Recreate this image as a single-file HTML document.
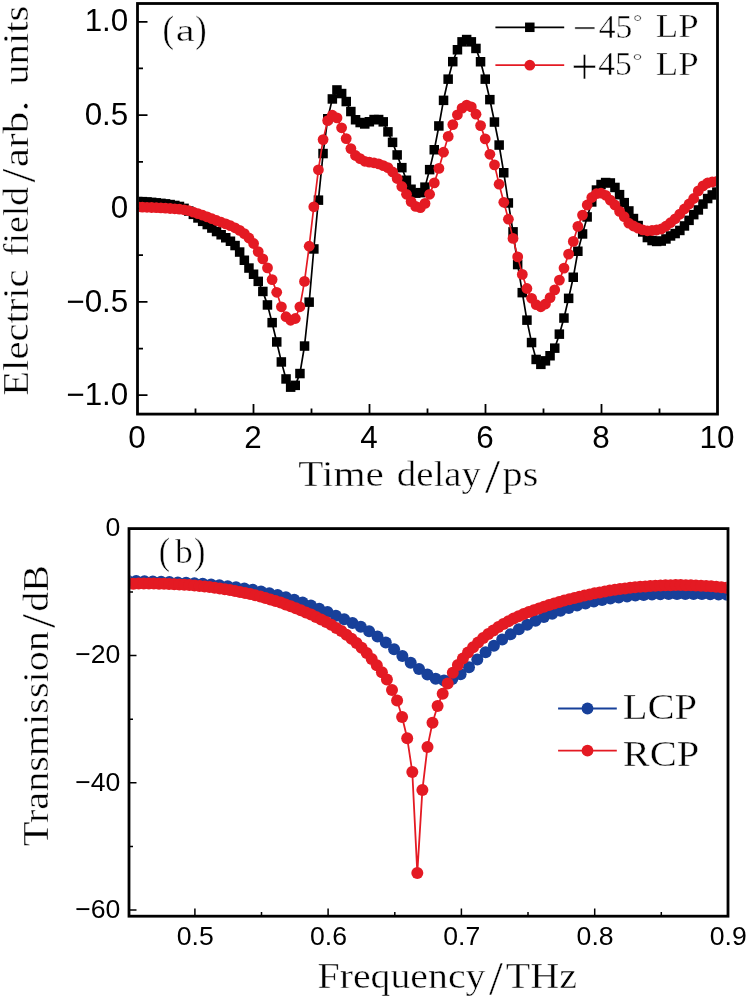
<!DOCTYPE html><html><head><meta charset="utf-8"><title>Figure</title><style>html,body{margin:0;padding:0;background:#fff}svg{display:block}</style></head><body>
<svg width="747" height="996" viewBox="0 0 747 996">
<rect width="747" height="996" fill="#fff"/>
<defs>
<clipPath id="ca"><rect x="138.8" y="4.8" width="577.4" height="408.0"/></clipPath>
<clipPath id="cb"><rect x="130.3" y="529.9" width="596.4" height="385.0"/></clipPath>
</defs>
<path d="M137.5,395.2h10 M137.5,301.9h10 M137.5,208.5h10 M137.5,115.1h10 M137.5,21.8h10 M137.5,348.6h5.5 M137.5,255.2h5.5 M137.5,161.8h5.5 M137.5,68.4h5.5 M253.5,414.1v-10 M369.5,414.1v-10 M485.5,414.1v-10 M601.5,414.1v-10 M195.5,414.1v-5.5 M311.5,414.1v-5.5 M427.5,414.1v-5.5 M543.5,414.1v-5.5 M659.5,414.1v-5.5" stroke="#000" stroke-width="1.8" fill="none"/>
<path d="M129.0,655.5h7.5 M129.0,782.8h7.5 M129.0,910.0h7.5 M129.0,591.9h4 M129.0,719.2h4 M129.0,846.4h4 M194.9,916.2v-7.6 M328.1,916.2v-7.6 M461.4,916.2v-7.6 M594.7,916.2v-7.6 M261.5,916.2v-4.3 M394.8,916.2v-4.3 M528.0,916.2v-4.3 M661.3,916.2v-4.3" stroke="#000" stroke-width="1.5" fill="none"/>
<g clip-path="url(#ca)">
<polyline fill="none" stroke="#000" stroke-width="1.7" stroke-linejoin="round" points="137.8,201.5 142.4,201.7 147.0,202.0 151.6,202.4 156.3,202.8 160.9,203.3 165.5,203.9 170.2,204.5 174.8,205.4 179.4,206.5 184.1,208.3 188.7,211.1 193.3,214.4 198.0,217.9 202.6,221.3 207.2,224.6 211.9,228.0 216.5,231.5 221.1,234.7 225.8,237.8 230.4,241.2 235.0,245.5 239.7,252.0 244.3,260.3 248.9,268.0 253.6,274.2 258.2,281.4 262.8,291.4 267.5,304.9 272.1,322.7 276.7,342.0 281.4,361.9 286.0,379.0 290.6,387.2 295.3,385.4 299.9,373.6 304.5,346.0 309.2,302.2 313.8,249.0 318.4,200.1 323.1,153.5 327.7,118.8 332.3,98.9 337.0,89.9 341.6,93.5 346.2,101.6 350.9,111.6 355.5,119.7 360.1,122.5 364.8,124.0 369.4,121.8 374.0,119.6 378.7,119.6 383.3,121.9 387.9,131.8 392.6,142.3 397.2,155.0 401.8,167.6 406.5,180.2 411.1,189.3 415.7,193.2 420.4,192.6 425.0,187.1 429.6,169.6 434.3,149.8 438.9,126.0 443.5,100.3 448.2,79.2 452.8,61.7 457.4,49.7 462.1,41.9 466.7,39.5 471.3,41.9 476.0,48.5 480.6,61.7 485.2,79.2 489.9,99.7 494.5,122.0 499.1,145.0 503.8,172.8 508.4,202.9 513.0,231.8 517.7,264.6 522.3,292.7 526.9,320.1 531.6,342.6 536.2,359.5 540.8,364.4 545.5,360.9 550.1,355.7 554.7,348.2 559.4,334.2 564.0,318.0 568.6,298.3 573.3,277.3 577.9,251.3 582.5,233.9 587.2,217.0 591.8,202.0 596.4,190.0 601.0,184.5 605.7,182.5 610.3,183.0 614.9,187.5 619.6,194.6 624.2,202.6 628.8,211.0 633.5,218.5 638.1,225.5 642.7,232.0 647.4,237.5 652.0,240.5 656.6,241.5 661.3,241.0 665.9,239.0 670.5,236.0 675.2,233.6 679.8,230.4 684.4,226.0 689.1,220.3 693.7,214.7 698.3,210.0 703.0,204.0 707.6,198.5 712.2,195.0 716.9,192.0"/>
<g fill="#000"><rect x="133.0" y="196.8" width="9.5" height="9.5"/><rect x="137.6" y="196.9" width="9.5" height="9.5"/><rect x="142.3" y="197.2" width="9.5" height="9.5"/><rect x="146.9" y="197.6" width="9.5" height="9.5"/><rect x="151.5" y="198.1" width="9.5" height="9.5"/><rect x="156.2" y="198.6" width="9.5" height="9.5"/><rect x="160.8" y="199.1" width="9.5" height="9.5"/><rect x="165.4" y="199.8" width="9.5" height="9.5"/><rect x="170.1" y="200.7" width="9.5" height="9.5"/><rect x="174.7" y="201.7" width="9.5" height="9.5"/><rect x="179.3" y="203.6" width="9.5" height="9.5"/><rect x="184.0" y="206.3" width="9.5" height="9.5"/><rect x="188.6" y="209.6" width="9.5" height="9.5"/><rect x="193.2" y="213.2" width="9.5" height="9.5"/><rect x="197.9" y="216.6" width="9.5" height="9.5"/><rect x="202.5" y="219.8" width="9.5" height="9.5"/><rect x="207.1" y="223.3" width="9.5" height="9.5"/><rect x="211.8" y="226.8" width="9.5" height="9.5"/><rect x="216.4" y="230.0" width="9.5" height="9.5"/><rect x="221.0" y="233.0" width="9.5" height="9.5"/><rect x="225.7" y="236.5" width="9.5" height="9.5"/><rect x="230.3" y="240.8" width="9.5" height="9.5"/><rect x="234.9" y="247.3" width="9.5" height="9.5"/><rect x="239.6" y="255.5" width="9.5" height="9.5"/><rect x="244.2" y="263.3" width="9.5" height="9.5"/><rect x="248.8" y="269.5" width="9.5" height="9.5"/><rect x="253.5" y="276.6" width="9.5" height="9.5"/><rect x="258.1" y="286.7" width="9.5" height="9.5"/><rect x="262.7" y="300.2" width="9.5" height="9.5"/><rect x="267.4" y="317.9" width="9.5" height="9.5"/><rect x="272.0" y="337.2" width="9.5" height="9.5"/><rect x="276.6" y="357.2" width="9.5" height="9.5"/><rect x="281.3" y="374.2" width="9.5" height="9.5"/><rect x="285.9" y="382.4" width="9.5" height="9.5"/><rect x="290.5" y="380.6" width="9.5" height="9.5"/><rect x="295.2" y="368.8" width="9.5" height="9.5"/><rect x="299.8" y="341.3" width="9.5" height="9.5"/><rect x="304.4" y="297.4" width="9.5" height="9.5"/><rect x="309.1" y="244.2" width="9.5" height="9.5"/><rect x="313.7" y="195.4" width="9.5" height="9.5"/><rect x="318.3" y="148.8" width="9.5" height="9.5"/><rect x="323.0" y="114.0" width="9.5" height="9.5"/><rect x="327.6" y="94.2" width="9.5" height="9.5"/><rect x="332.2" y="85.2" width="9.5" height="9.5"/><rect x="336.9" y="88.8" width="9.5" height="9.5"/><rect x="341.5" y="96.8" width="9.5" height="9.5"/><rect x="346.1" y="106.8" width="9.5" height="9.5"/><rect x="350.8" y="115.0" width="9.5" height="9.5"/><rect x="355.4" y="117.8" width="9.5" height="9.5"/><rect x="360.0" y="119.2" width="9.5" height="9.5"/><rect x="364.6" y="117.0" width="9.5" height="9.5"/><rect x="369.3" y="114.8" width="9.5" height="9.5"/><rect x="373.9" y="114.8" width="9.5" height="9.5"/><rect x="378.5" y="117.1" width="9.5" height="9.5"/><rect x="383.2" y="127.1" width="9.5" height="9.5"/><rect x="387.8" y="137.6" width="9.5" height="9.5"/><rect x="392.4" y="150.2" width="9.5" height="9.5"/><rect x="397.1" y="162.9" width="9.5" height="9.5"/><rect x="401.7" y="175.5" width="9.5" height="9.5"/><rect x="406.3" y="184.5" width="9.5" height="9.5"/><rect x="411.0" y="188.4" width="9.5" height="9.5"/><rect x="415.6" y="187.9" width="9.5" height="9.5"/><rect x="420.2" y="182.4" width="9.5" height="9.5"/><rect x="424.9" y="164.9" width="9.5" height="9.5"/><rect x="429.5" y="145.0" width="9.5" height="9.5"/><rect x="434.1" y="121.2" width="9.5" height="9.5"/><rect x="438.8" y="95.6" width="9.5" height="9.5"/><rect x="443.4" y="74.4" width="9.5" height="9.5"/><rect x="448.0" y="56.9" width="9.5" height="9.5"/><rect x="452.7" y="45.0" width="9.5" height="9.5"/><rect x="457.3" y="37.1" width="9.5" height="9.5"/><rect x="461.9" y="34.8" width="9.5" height="9.5"/><rect x="466.6" y="37.1" width="9.5" height="9.5"/><rect x="471.2" y="43.7" width="9.5" height="9.5"/><rect x="475.8" y="57.0" width="9.5" height="9.5"/><rect x="480.5" y="74.4" width="9.5" height="9.5"/><rect x="485.1" y="94.9" width="9.5" height="9.5"/><rect x="489.7" y="117.3" width="9.5" height="9.5"/><rect x="494.4" y="140.3" width="9.5" height="9.5"/><rect x="499.0" y="168.0" width="9.5" height="9.5"/><rect x="503.6" y="198.2" width="9.5" height="9.5"/><rect x="508.3" y="227.1" width="9.5" height="9.5"/><rect x="512.9" y="259.8" width="9.5" height="9.5"/><rect x="517.5" y="287.9" width="9.5" height="9.5"/><rect x="522.2" y="315.4" width="9.5" height="9.5"/><rect x="526.8" y="337.8" width="9.5" height="9.5"/><rect x="531.4" y="354.7" width="9.5" height="9.5"/><rect x="536.1" y="359.6" width="9.5" height="9.5"/><rect x="540.7" y="356.1" width="9.5" height="9.5"/><rect x="545.3" y="351.0" width="9.5" height="9.5"/><rect x="550.0" y="343.4" width="9.5" height="9.5"/><rect x="554.6" y="329.4" width="9.5" height="9.5"/><rect x="559.2" y="313.3" width="9.5" height="9.5"/><rect x="563.9" y="293.6" width="9.5" height="9.5"/><rect x="568.5" y="272.5" width="9.5" height="9.5"/><rect x="573.1" y="246.5" width="9.5" height="9.5"/><rect x="577.8" y="229.2" width="9.5" height="9.5"/><rect x="582.4" y="212.2" width="9.5" height="9.5"/><rect x="587.0" y="197.2" width="9.5" height="9.5"/><rect x="591.7" y="185.3" width="9.5" height="9.5"/><rect x="596.3" y="179.8" width="9.5" height="9.5"/><rect x="600.9" y="177.8" width="9.5" height="9.5"/><rect x="605.6" y="178.2" width="9.5" height="9.5"/><rect x="610.2" y="182.7" width="9.5" height="9.5"/><rect x="614.8" y="189.9" width="9.5" height="9.5"/><rect x="619.5" y="197.9" width="9.5" height="9.5"/><rect x="624.1" y="206.2" width="9.5" height="9.5"/><rect x="628.7" y="213.8" width="9.5" height="9.5"/><rect x="633.4" y="220.8" width="9.5" height="9.5"/><rect x="638.0" y="227.2" width="9.5" height="9.5"/><rect x="642.6" y="232.8" width="9.5" height="9.5"/><rect x="647.3" y="235.8" width="9.5" height="9.5"/><rect x="651.9" y="236.7" width="9.5" height="9.5"/><rect x="656.5" y="236.3" width="9.5" height="9.5"/><rect x="661.2" y="234.2" width="9.5" height="9.5"/><rect x="665.8" y="231.2" width="9.5" height="9.5"/><rect x="670.4" y="228.8" width="9.5" height="9.5"/><rect x="675.1" y="225.7" width="9.5" height="9.5"/><rect x="679.7" y="221.2" width="9.5" height="9.5"/><rect x="684.3" y="215.6" width="9.5" height="9.5"/><rect x="689.0" y="209.9" width="9.5" height="9.5"/><rect x="693.6" y="205.2" width="9.5" height="9.5"/><rect x="698.2" y="199.3" width="9.5" height="9.5"/><rect x="702.9" y="193.8" width="9.5" height="9.5"/><rect x="707.5" y="190.2" width="9.5" height="9.5"/><rect x="712.1" y="187.3" width="9.5" height="9.5"/></g>
<polyline fill="none" stroke="#e41a23" stroke-width="1.7" stroke-linejoin="round" points="137.8,206.9 142.4,207.1 147.0,207.3 151.6,207.5 156.3,207.7 160.9,207.9 165.5,208.2 170.2,208.5 174.8,208.8 179.4,209.2 184.1,209.8 188.7,210.7 193.3,212.1 198.0,213.6 202.6,215.2 207.2,216.9 211.9,218.7 216.5,220.5 221.1,222.2 225.8,223.9 230.4,225.7 235.0,227.8 239.7,230.4 244.3,233.6 248.9,238.0 253.6,243.5 258.2,251.6 262.8,258.9 267.5,267.9 272.1,279.6 276.7,292.3 281.4,306.8 286.0,316.7 290.6,320.3 295.3,318.5 299.9,306.8 304.5,281.4 309.2,246.2 313.8,206.8 318.4,169.8 323.1,139.6 327.7,120.6 332.3,115.2 337.0,117.9 341.6,127.8 346.2,138.6 350.9,148.6 355.5,155.5 360.1,158.6 364.8,161.3 369.4,162.2 374.0,162.8 378.7,163.9 383.3,165.6 387.9,167.6 392.6,172.0 397.2,178.5 401.8,186.5 406.5,194.3 411.1,201.6 415.7,206.4 420.4,207.6 425.0,203.4 429.6,194.3 434.3,182.9 438.9,168.4 443.5,152.2 448.2,136.4 452.8,124.6 457.4,114.8 462.1,108.1 466.7,105.1 471.3,106.9 476.0,114.2 480.6,125.6 485.2,138.9 489.9,154.3 494.5,164.9 499.1,184.2 503.8,202.3 508.4,219.2 513.0,238.4 517.7,256.9 522.3,274.4 526.9,288.5 531.6,298.3 536.2,304.7 540.8,306.8 545.5,304.0 550.1,297.6 554.7,289.9 559.4,280.1 564.0,268.1 568.6,254.1 573.3,241.4 577.9,226.4 582.5,215.1 587.2,205.0 591.8,197.5 596.4,193.7 601.0,193.2 605.7,195.3 610.3,200.1 614.9,205.0 619.6,211.4 624.2,216.7 628.8,223.2 633.5,226.0 638.1,228.2 642.7,229.9 647.4,230.8 652.0,230.5 656.6,230.0 661.3,229.0 665.9,226.2 670.5,222.7 675.2,218.8 679.8,214.1 684.4,209.0 689.1,204.0 693.7,198.5 698.3,190.9 703.0,185.9 707.6,183.0 712.2,182.0 716.9,181.3"/>
<g fill="#e41a23"><circle cx="137.8" cy="206.9" r="5.4"/><circle cx="142.4" cy="207.1" r="5.4"/><circle cx="147.0" cy="207.3" r="5.4"/><circle cx="151.6" cy="207.5" r="5.4"/><circle cx="156.3" cy="207.7" r="5.4"/><circle cx="160.9" cy="207.9" r="5.4"/><circle cx="165.5" cy="208.2" r="5.4"/><circle cx="170.2" cy="208.5" r="5.4"/><circle cx="174.8" cy="208.8" r="5.4"/><circle cx="179.4" cy="209.2" r="5.4"/><circle cx="184.1" cy="209.8" r="5.4"/><circle cx="188.7" cy="210.7" r="5.4"/><circle cx="193.3" cy="212.1" r="5.4"/><circle cx="198.0" cy="213.6" r="5.4"/><circle cx="202.6" cy="215.2" r="5.4"/><circle cx="207.2" cy="216.9" r="5.4"/><circle cx="211.9" cy="218.7" r="5.4"/><circle cx="216.5" cy="220.5" r="5.4"/><circle cx="221.1" cy="222.2" r="5.4"/><circle cx="225.8" cy="223.9" r="5.4"/><circle cx="230.4" cy="225.7" r="5.4"/><circle cx="235.0" cy="227.8" r="5.4"/><circle cx="239.7" cy="230.4" r="5.4"/><circle cx="244.3" cy="233.6" r="5.4"/><circle cx="248.9" cy="238.0" r="5.4"/><circle cx="253.6" cy="243.5" r="5.4"/><circle cx="258.2" cy="251.6" r="5.4"/><circle cx="262.8" cy="258.9" r="5.4"/><circle cx="267.5" cy="267.9" r="5.4"/><circle cx="272.1" cy="279.6" r="5.4"/><circle cx="276.7" cy="292.3" r="5.4"/><circle cx="281.4" cy="306.8" r="5.4"/><circle cx="286.0" cy="316.7" r="5.4"/><circle cx="290.6" cy="320.3" r="5.4"/><circle cx="295.3" cy="318.5" r="5.4"/><circle cx="299.9" cy="306.8" r="5.4"/><circle cx="304.5" cy="281.4" r="5.4"/><circle cx="309.2" cy="246.2" r="5.4"/><circle cx="313.8" cy="206.8" r="5.4"/><circle cx="318.4" cy="169.8" r="5.4"/><circle cx="323.1" cy="139.6" r="5.4"/><circle cx="327.7" cy="120.6" r="5.4"/><circle cx="332.3" cy="115.2" r="5.4"/><circle cx="337.0" cy="117.9" r="5.4"/><circle cx="341.6" cy="127.8" r="5.4"/><circle cx="346.2" cy="138.6" r="5.4"/><circle cx="350.9" cy="148.6" r="5.4"/><circle cx="355.5" cy="155.5" r="5.4"/><circle cx="360.1" cy="158.6" r="5.4"/><circle cx="364.8" cy="161.3" r="5.4"/><circle cx="369.4" cy="162.2" r="5.4"/><circle cx="374.0" cy="162.8" r="5.4"/><circle cx="378.7" cy="163.9" r="5.4"/><circle cx="383.3" cy="165.6" r="5.4"/><circle cx="387.9" cy="167.6" r="5.4"/><circle cx="392.6" cy="172.0" r="5.4"/><circle cx="397.2" cy="178.5" r="5.4"/><circle cx="401.8" cy="186.5" r="5.4"/><circle cx="406.5" cy="194.3" r="5.4"/><circle cx="411.1" cy="201.6" r="5.4"/><circle cx="415.7" cy="206.4" r="5.4"/><circle cx="420.4" cy="207.6" r="5.4"/><circle cx="425.0" cy="203.4" r="5.4"/><circle cx="429.6" cy="194.3" r="5.4"/><circle cx="434.3" cy="182.9" r="5.4"/><circle cx="438.9" cy="168.4" r="5.4"/><circle cx="443.5" cy="152.2" r="5.4"/><circle cx="448.2" cy="136.4" r="5.4"/><circle cx="452.8" cy="124.6" r="5.4"/><circle cx="457.4" cy="114.8" r="5.4"/><circle cx="462.1" cy="108.1" r="5.4"/><circle cx="466.7" cy="105.1" r="5.4"/><circle cx="471.3" cy="106.9" r="5.4"/><circle cx="476.0" cy="114.2" r="5.4"/><circle cx="480.6" cy="125.6" r="5.4"/><circle cx="485.2" cy="138.9" r="5.4"/><circle cx="489.9" cy="154.3" r="5.4"/><circle cx="494.5" cy="164.9" r="5.4"/><circle cx="499.1" cy="184.2" r="5.4"/><circle cx="503.8" cy="202.3" r="5.4"/><circle cx="508.4" cy="219.2" r="5.4"/><circle cx="513.0" cy="238.4" r="5.4"/><circle cx="517.7" cy="256.9" r="5.4"/><circle cx="522.3" cy="274.4" r="5.4"/><circle cx="526.9" cy="288.5" r="5.4"/><circle cx="531.6" cy="298.3" r="5.4"/><circle cx="536.2" cy="304.7" r="5.4"/><circle cx="540.8" cy="306.8" r="5.4"/><circle cx="545.5" cy="304.0" r="5.4"/><circle cx="550.1" cy="297.6" r="5.4"/><circle cx="554.7" cy="289.9" r="5.4"/><circle cx="559.4" cy="280.1" r="5.4"/><circle cx="564.0" cy="268.1" r="5.4"/><circle cx="568.6" cy="254.1" r="5.4"/><circle cx="573.3" cy="241.4" r="5.4"/><circle cx="577.9" cy="226.4" r="5.4"/><circle cx="582.5" cy="215.1" r="5.4"/><circle cx="587.2" cy="205.0" r="5.4"/><circle cx="591.8" cy="197.5" r="5.4"/><circle cx="596.4" cy="193.7" r="5.4"/><circle cx="601.0" cy="193.2" r="5.4"/><circle cx="605.7" cy="195.3" r="5.4"/><circle cx="610.3" cy="200.1" r="5.4"/><circle cx="614.9" cy="205.0" r="5.4"/><circle cx="619.6" cy="211.4" r="5.4"/><circle cx="624.2" cy="216.7" r="5.4"/><circle cx="628.8" cy="223.2" r="5.4"/><circle cx="633.5" cy="226.0" r="5.4"/><circle cx="638.1" cy="228.2" r="5.4"/><circle cx="642.7" cy="229.9" r="5.4"/><circle cx="647.4" cy="230.8" r="5.4"/><circle cx="652.0" cy="230.5" r="5.4"/><circle cx="656.6" cy="230.0" r="5.4"/><circle cx="661.3" cy="229.0" r="5.4"/><circle cx="665.9" cy="226.2" r="5.4"/><circle cx="670.5" cy="222.7" r="5.4"/><circle cx="675.2" cy="218.8" r="5.4"/><circle cx="679.8" cy="214.1" r="5.4"/><circle cx="684.4" cy="209.0" r="5.4"/><circle cx="689.1" cy="204.0" r="5.4"/><circle cx="693.7" cy="198.5" r="5.4"/><circle cx="698.3" cy="190.9" r="5.4"/><circle cx="703.0" cy="185.9" r="5.4"/><circle cx="707.6" cy="183.0" r="5.4"/><circle cx="712.2" cy="182.0" r="5.4"/><circle cx="716.9" cy="181.3" r="5.4"/></g>
</g>
<g clip-path="url(#cb)">
<polyline fill="none" stroke="#17409a" stroke-width="1.8" points="127.8,580.9 136.2,581.1 144.5,581.3 152.8,581.5 161.1,581.7 169.4,582.0 177.8,582.4 186.1,582.8 194.4,583.2 202.7,583.8 211.1,584.5 219.4,585.2 227.7,586.2 236.0,587.2 244.3,588.4 252.7,589.8 261.0,591.4 269.3,593.2 277.6,595.1 285.9,597.3 294.2,599.8 302.6,602.5 310.9,605.4 319.2,608.7 327.5,612.1 335.9,615.7 344.2,619.3 352.5,622.9 360.8,626.7 369.1,631.2 377.5,636.5 385.8,642.6 394.1,649.2 402.4,656.0 410.7,662.7 419.0,669.0 427.4,674.6 435.7,678.7 444.0,680.5 452.3,679.1 460.6,674.2 469.0,667.2 477.3,659.5 485.6,652.3 493.9,645.7 502.2,639.6 510.6,634.2 518.9,629.2 527.2,624.8 535.5,620.7 543.9,617.0 552.2,613.7 560.5,610.7 568.8,608.0 577.1,605.6 585.5,603.5 593.8,601.6 602.1,600.0 610.4,598.6 618.7,597.4 627.1,596.4 635.4,595.6 643.7,595.0 652.0,594.5 660.3,594.2 668.7,594.0 677.0,593.9 685.3,593.9 693.6,593.9 701.9,594.1 710.2,594.2 718.6,594.5 726.9,594.7 735.2,594.9"/>
<g fill="#17409a"><circle cx="127.8" cy="580.9" r="6.0"/><circle cx="136.2" cy="581.1" r="6.0"/><circle cx="144.5" cy="581.3" r="6.0"/><circle cx="152.8" cy="581.5" r="6.0"/><circle cx="161.1" cy="581.7" r="6.0"/><circle cx="169.4" cy="582.0" r="6.0"/><circle cx="177.8" cy="582.4" r="6.0"/><circle cx="186.1" cy="582.8" r="6.0"/><circle cx="194.4" cy="583.2" r="6.0"/><circle cx="202.7" cy="583.8" r="6.0"/><circle cx="211.1" cy="584.5" r="6.0"/><circle cx="219.4" cy="585.2" r="6.0"/><circle cx="227.7" cy="586.2" r="6.0"/><circle cx="236.0" cy="587.2" r="6.0"/><circle cx="244.3" cy="588.4" r="6.0"/><circle cx="252.7" cy="589.8" r="6.0"/><circle cx="261.0" cy="591.4" r="6.0"/><circle cx="269.3" cy="593.2" r="6.0"/><circle cx="277.6" cy="595.1" r="6.0"/><circle cx="285.9" cy="597.3" r="6.0"/><circle cx="294.2" cy="599.8" r="6.0"/><circle cx="302.6" cy="602.5" r="6.0"/><circle cx="310.9" cy="605.4" r="6.0"/><circle cx="319.2" cy="608.7" r="6.0"/><circle cx="327.5" cy="612.1" r="6.0"/><circle cx="335.9" cy="615.7" r="6.0"/><circle cx="344.2" cy="619.3" r="6.0"/><circle cx="352.5" cy="622.9" r="6.0"/><circle cx="360.8" cy="626.7" r="6.0"/><circle cx="369.1" cy="631.2" r="6.0"/><circle cx="377.5" cy="636.5" r="6.0"/><circle cx="385.8" cy="642.6" r="6.0"/><circle cx="394.1" cy="649.2" r="6.0"/><circle cx="402.4" cy="656.0" r="6.0"/><circle cx="410.7" cy="662.7" r="6.0"/><circle cx="419.0" cy="669.0" r="6.0"/><circle cx="427.4" cy="674.6" r="6.0"/><circle cx="435.7" cy="678.7" r="6.0"/><circle cx="444.0" cy="680.5" r="6.0"/><circle cx="452.3" cy="679.1" r="6.0"/><circle cx="460.6" cy="674.2" r="6.0"/><circle cx="469.0" cy="667.2" r="6.0"/><circle cx="477.3" cy="659.5" r="6.0"/><circle cx="485.6" cy="652.3" r="6.0"/><circle cx="493.9" cy="645.7" r="6.0"/><circle cx="502.2" cy="639.6" r="6.0"/><circle cx="510.6" cy="634.2" r="6.0"/><circle cx="518.9" cy="629.2" r="6.0"/><circle cx="527.2" cy="624.8" r="6.0"/><circle cx="535.5" cy="620.7" r="6.0"/><circle cx="543.9" cy="617.0" r="6.0"/><circle cx="552.2" cy="613.7" r="6.0"/><circle cx="560.5" cy="610.7" r="6.0"/><circle cx="568.8" cy="608.0" r="6.0"/><circle cx="577.1" cy="605.6" r="6.0"/><circle cx="585.5" cy="603.5" r="6.0"/><circle cx="593.8" cy="601.6" r="6.0"/><circle cx="602.1" cy="600.0" r="6.0"/><circle cx="610.4" cy="598.6" r="6.0"/><circle cx="618.7" cy="597.4" r="6.0"/><circle cx="627.1" cy="596.4" r="6.0"/><circle cx="635.4" cy="595.6" r="6.0"/><circle cx="643.7" cy="595.0" r="6.0"/><circle cx="652.0" cy="594.5" r="6.0"/><circle cx="660.3" cy="594.2" r="6.0"/><circle cx="668.7" cy="594.0" r="6.0"/><circle cx="677.0" cy="593.9" r="6.0"/><circle cx="685.3" cy="593.9" r="6.0"/><circle cx="693.6" cy="593.9" r="6.0"/><circle cx="701.9" cy="594.1" r="6.0"/><circle cx="710.2" cy="594.2" r="6.0"/><circle cx="718.6" cy="594.5" r="6.0"/><circle cx="726.9" cy="594.7" r="6.0"/><circle cx="735.2" cy="594.9" r="6.0"/></g>
<polyline fill="none" stroke="#e41a23" stroke-width="1.8" points="128.6,583.7 133.7,583.7 138.7,583.6 143.8,583.6 148.9,583.6 153.9,583.6 159.0,583.7 164.1,583.8 169.1,584.0 174.2,584.2 179.3,584.5 184.3,584.8 189.4,585.1 194.5,585.5 199.5,586.0 204.6,586.5 209.6,587.1 214.7,587.7 219.8,588.4 224.8,589.2 229.9,590.0 235.0,590.9 240.0,591.9 245.1,592.9 250.2,594.1 255.2,595.3 260.3,596.6 265.4,598.0 270.4,599.4 275.5,601.0 280.6,602.6 285.6,604.4 290.7,606.2 295.8,608.2 300.8,610.2 305.9,612.4 311.0,614.6 316.0,617.0 321.1,619.4 326.2,622.1 331.2,624.8 336.3,627.9 341.4,631.1 346.4,634.7 351.5,638.7 356.5,643.0 361.6,647.8 366.7,653.1 371.7,658.9 376.8,665.3 381.9,672.3 386.9,679.4 392.0,689.9 397.1,700.5 402.1,717.1 407.2,738.2 412.3,772.0 417.3,872.9 422.4,789.9 427.5,746.9 432.5,722.8 437.6,706.1 442.7,693.7 447.7,683.5 452.8,672.7 457.9,665.0 462.9,658.4 468.0,652.5 473.1,647.3 478.1,642.5 483.2,638.1 488.3,634.1 493.3,630.4 498.4,627.0 503.4,624.0 508.5,621.2 513.6,618.6 518.6,616.2 523.7,614.1 528.8,612.1 533.8,610.2 538.9,608.4 544.0,606.7 549.0,605.1 554.1,603.5 559.2,602.0 564.2,600.6 569.3,599.2 574.4,597.9 579.4,596.7 584.5,595.5 589.6,594.4 594.6,593.3 599.7,592.4 604.8,591.4 609.8,590.6 614.9,589.8 620.0,589.1 625.0,588.4 630.1,587.8 635.1,587.3 640.2,586.8 645.3,586.4 650.3,586.0 655.4,585.7 660.5,585.5 665.5,585.3 670.6,585.2 675.7,585.1 680.7,585.1 685.8,585.2 690.9,585.3 695.9,585.5 701.0,585.7 706.1,586.0 711.1,586.3 716.2,586.7 721.3,587.2 726.3,587.7"/>
<g fill="#e41a23"><circle cx="128.6" cy="583.7" r="6.0"/><circle cx="133.7" cy="583.7" r="6.0"/><circle cx="138.7" cy="583.6" r="6.0"/><circle cx="143.8" cy="583.6" r="6.0"/><circle cx="148.9" cy="583.6" r="6.0"/><circle cx="153.9" cy="583.6" r="6.0"/><circle cx="159.0" cy="583.7" r="6.0"/><circle cx="164.1" cy="583.8" r="6.0"/><circle cx="169.1" cy="584.0" r="6.0"/><circle cx="174.2" cy="584.2" r="6.0"/><circle cx="179.3" cy="584.5" r="6.0"/><circle cx="184.3" cy="584.8" r="6.0"/><circle cx="189.4" cy="585.1" r="6.0"/><circle cx="194.5" cy="585.5" r="6.0"/><circle cx="199.5" cy="586.0" r="6.0"/><circle cx="204.6" cy="586.5" r="6.0"/><circle cx="209.6" cy="587.1" r="6.0"/><circle cx="214.7" cy="587.7" r="6.0"/><circle cx="219.8" cy="588.4" r="6.0"/><circle cx="224.8" cy="589.2" r="6.0"/><circle cx="229.9" cy="590.0" r="6.0"/><circle cx="235.0" cy="590.9" r="6.0"/><circle cx="240.0" cy="591.9" r="6.0"/><circle cx="245.1" cy="592.9" r="6.0"/><circle cx="250.2" cy="594.1" r="6.0"/><circle cx="255.2" cy="595.3" r="6.0"/><circle cx="260.3" cy="596.6" r="6.0"/><circle cx="265.4" cy="598.0" r="6.0"/><circle cx="270.4" cy="599.4" r="6.0"/><circle cx="275.5" cy="601.0" r="6.0"/><circle cx="280.6" cy="602.6" r="6.0"/><circle cx="285.6" cy="604.4" r="6.0"/><circle cx="290.7" cy="606.2" r="6.0"/><circle cx="295.8" cy="608.2" r="6.0"/><circle cx="300.8" cy="610.2" r="6.0"/><circle cx="305.9" cy="612.4" r="6.0"/><circle cx="311.0" cy="614.6" r="6.0"/><circle cx="316.0" cy="617.0" r="6.0"/><circle cx="321.1" cy="619.4" r="6.0"/><circle cx="326.2" cy="622.1" r="6.0"/><circle cx="331.2" cy="624.8" r="6.0"/><circle cx="336.3" cy="627.9" r="6.0"/><circle cx="341.4" cy="631.1" r="6.0"/><circle cx="346.4" cy="634.7" r="6.0"/><circle cx="351.5" cy="638.7" r="6.0"/><circle cx="356.5" cy="643.0" r="6.0"/><circle cx="361.6" cy="647.8" r="6.0"/><circle cx="366.7" cy="653.1" r="6.0"/><circle cx="371.7" cy="658.9" r="6.0"/><circle cx="376.8" cy="665.3" r="6.0"/><circle cx="381.9" cy="672.3" r="6.0"/><circle cx="386.9" cy="679.4" r="6.0"/><circle cx="392.0" cy="689.9" r="6.0"/><circle cx="397.1" cy="700.5" r="6.0"/><circle cx="402.1" cy="717.1" r="6.0"/><circle cx="407.2" cy="738.2" r="6.0"/><circle cx="412.3" cy="772.0" r="6.0"/><circle cx="417.3" cy="872.9" r="6.0"/><circle cx="422.4" cy="789.9" r="6.0"/><circle cx="427.5" cy="746.9" r="6.0"/><circle cx="432.5" cy="722.8" r="6.0"/><circle cx="437.6" cy="706.1" r="6.0"/><circle cx="442.7" cy="693.7" r="6.0"/><circle cx="447.7" cy="683.5" r="6.0"/><circle cx="452.8" cy="672.7" r="6.0"/><circle cx="457.9" cy="665.0" r="6.0"/><circle cx="462.9" cy="658.4" r="6.0"/><circle cx="468.0" cy="652.5" r="6.0"/><circle cx="473.1" cy="647.3" r="6.0"/><circle cx="478.1" cy="642.5" r="6.0"/><circle cx="483.2" cy="638.1" r="6.0"/><circle cx="488.3" cy="634.1" r="6.0"/><circle cx="493.3" cy="630.4" r="6.0"/><circle cx="498.4" cy="627.0" r="6.0"/><circle cx="503.4" cy="624.0" r="6.0"/><circle cx="508.5" cy="621.2" r="6.0"/><circle cx="513.6" cy="618.6" r="6.0"/><circle cx="518.6" cy="616.2" r="6.0"/><circle cx="523.7" cy="614.1" r="6.0"/><circle cx="528.8" cy="612.1" r="6.0"/><circle cx="533.8" cy="610.2" r="6.0"/><circle cx="538.9" cy="608.4" r="6.0"/><circle cx="544.0" cy="606.7" r="6.0"/><circle cx="549.0" cy="605.1" r="6.0"/><circle cx="554.1" cy="603.5" r="6.0"/><circle cx="559.2" cy="602.0" r="6.0"/><circle cx="564.2" cy="600.6" r="6.0"/><circle cx="569.3" cy="599.2" r="6.0"/><circle cx="574.4" cy="597.9" r="6.0"/><circle cx="579.4" cy="596.7" r="6.0"/><circle cx="584.5" cy="595.5" r="6.0"/><circle cx="589.6" cy="594.4" r="6.0"/><circle cx="594.6" cy="593.3" r="6.0"/><circle cx="599.7" cy="592.4" r="6.0"/><circle cx="604.8" cy="591.4" r="6.0"/><circle cx="609.8" cy="590.6" r="6.0"/><circle cx="614.9" cy="589.8" r="6.0"/><circle cx="620.0" cy="589.1" r="6.0"/><circle cx="625.0" cy="588.4" r="6.0"/><circle cx="630.1" cy="587.8" r="6.0"/><circle cx="635.1" cy="587.3" r="6.0"/><circle cx="640.2" cy="586.8" r="6.0"/><circle cx="645.3" cy="586.4" r="6.0"/><circle cx="650.3" cy="586.0" r="6.0"/><circle cx="655.4" cy="585.7" r="6.0"/><circle cx="660.5" cy="585.5" r="6.0"/><circle cx="665.5" cy="585.3" r="6.0"/><circle cx="670.6" cy="585.2" r="6.0"/><circle cx="675.7" cy="585.1" r="6.0"/><circle cx="680.7" cy="585.1" r="6.0"/><circle cx="685.8" cy="585.2" r="6.0"/><circle cx="690.9" cy="585.3" r="6.0"/><circle cx="695.9" cy="585.5" r="6.0"/><circle cx="701.0" cy="585.7" r="6.0"/><circle cx="706.1" cy="586.0" r="6.0"/><circle cx="711.1" cy="586.3" r="6.0"/><circle cx="716.2" cy="586.7" r="6.0"/><circle cx="721.3" cy="587.2" r="6.0"/><circle cx="726.3" cy="587.7" r="6.0"/></g>
</g>
<rect x="137.5" y="3.5" width="580.0" height="410.6" fill="none" stroke="#000" stroke-width="2.8"/>
<rect x="129.0" y="528.6" width="599.0" height="387.6" fill="none" stroke="#000" stroke-width="2.8"/>
<g font-family="'Liberation Sans', Arial, sans-serif" font-size="31.4" fill="#000" text-anchor="end">
<text x="128.3" y="31.4">1.0</text>
<text x="128.3" y="124.7">0.5</text>
<text x="128.3" y="218.1">0</text>
<text x="128.3" y="311.5">−0.5</text>
<text x="128.3" y="404.9">−1.0</text>
</g>
<g font-family="'Liberation Sans', Arial, sans-serif" font-size="31.4" fill="#000" text-anchor="middle">
<text x="137.0" y="447.9">0</text>
<text x="253.0" y="447.9">2</text>
<text x="369.0" y="447.9">4</text>
<text x="485.0" y="447.9">6</text>
<text x="601.0" y="447.9">8</text>
<text x="717.0" y="447.9">10</text>
</g>
<g font-family="'Liberation Sans', Arial, sans-serif" font-size="26.6" fill="#000" text-anchor="end">
<text x="120.4" y="536.1">0</text>
<text x="120.4" y="663.3">−20</text>
<text x="120.4" y="790.6">−40</text>
<text x="120.4" y="917.8">−60</text>
</g>
<g font-family="'Liberation Sans', Arial, sans-serif" font-size="26.6" fill="#000" text-anchor="middle">
<text x="195.3" y="945.1">0.5</text>
<text x="328.5" y="945.1">0.6</text>
<text x="461.8" y="945.1">0.7</text>
<text x="595.1" y="945.1">0.8</text>
<text x="728.3" y="945.1">0.9</text>
</g>
<g><text transform="translate(298.28,485.90) scale(0.4124,0.3480)" font-family="'Liberation Serif', 'Times New Roman', serif" font-size="100" fill="#000" stroke="#fff" stroke-width="0.45" vector-effect="non-scaling-stroke">Time</text><text transform="translate(396.84,485.90) scale(0.3882,0.3480)" font-family="'Liberation Serif', 'Times New Roman', serif" font-size="100" fill="#000" stroke="#fff" stroke-width="0.45" vector-effect="non-scaling-stroke">delay</text><text transform="translate(485.00,493.12) scale(0.5455,0.4842)" font-family="'Liberation Serif', 'Times New Roman', serif" font-size="100" fill="#000" stroke="#fff" stroke-width="0.45" vector-effect="non-scaling-stroke">/</text><text transform="translate(502.60,485.90) scale(0.4012,0.3480)" font-family="'Liberation Serif', 'Times New Roman', serif" font-size="100" fill="#000" stroke="#fff" stroke-width="0.45" vector-effect="non-scaling-stroke">ps</text></g>
<g><text transform="translate(317.61,988.10) scale(0.3976,0.3480)" font-family="'Liberation Serif', 'Times New Roman', serif" font-size="100" fill="#000" stroke="#fff" stroke-width="0.45" vector-effect="non-scaling-stroke">Frequency</text><text transform="translate(489.10,995.02) scale(0.4982,0.4827)" font-family="'Liberation Serif', 'Times New Roman', serif" font-size="100" fill="#000" stroke="#fff" stroke-width="0.45" vector-effect="non-scaling-stroke">/</text><text transform="translate(505.70,988.10) scale(0.4012,0.3480)" font-family="'Liberation Serif', 'Times New Roman', serif" font-size="100" fill="#000" stroke="#fff" stroke-width="0.45" vector-effect="non-scaling-stroke">THz</text></g>
<g><text transform="translate(27.80,395.72) rotate(-90) scale(0.4066,0.3480)" font-family="'Liberation Serif', 'Times New Roman', serif" font-size="100" fill="#000" stroke="#fff" stroke-width="0.45" vector-effect="non-scaling-stroke">Electric</text><text transform="translate(27.80,256.24) rotate(-90) scale(0.3793,0.3480)" font-family="'Liberation Serif', 'Times New Roman', serif" font-size="100" fill="#000" stroke="#fff" stroke-width="0.45" vector-effect="non-scaling-stroke">field</text><text transform="translate(35.41,182.60) rotate(-90) scale(0.4982,0.4902)" font-family="'Liberation Serif', 'Times New Roman', serif" font-size="100" fill="#000" stroke="#fff" stroke-width="0.45" vector-effect="non-scaling-stroke">/</text><text transform="translate(27.80,167.33) rotate(-90) scale(0.4372,0.3480)" font-family="'Liberation Serif', 'Times New Roman', serif" font-size="100" fill="#000" stroke="#fff" stroke-width="0.45" vector-effect="non-scaling-stroke">arb.</text><text transform="translate(27.80,84.81) rotate(-90) scale(0.4074,0.3480)" font-family="'Liberation Serif', 'Times New Roman', serif" font-size="100" fill="#000" stroke="#fff" stroke-width="0.45" vector-effect="non-scaling-stroke">units</text></g>
<g><text transform="translate(48.00,846.20) rotate(-90) scale(0.4019,0.3480)" font-family="'Liberation Serif', 'Times New Roman', serif" font-size="100" fill="#000" stroke="#fff" stroke-width="0.45" vector-effect="non-scaling-stroke">Transmission</text><text transform="translate(55.41,627.90) rotate(-90) scale(0.5055,0.4917)" font-family="'Liberation Serif', 'Times New Roman', serif" font-size="100" fill="#000" stroke="#fff" stroke-width="0.45" vector-effect="non-scaling-stroke">/</text><text transform="translate(48.00,611.70) rotate(-90) scale(0.4000,0.3480)" font-family="'Liberation Serif', 'Times New Roman', serif" font-size="100" fill="#000" stroke="#fff" stroke-width="0.45" vector-effect="non-scaling-stroke">dB</text></g>
<g><text transform="translate(162.53,41.64) scale(0.3490,0.3744)" font-family="'Liberation Serif', 'Times New Roman', serif" font-size="100" fill="#000" stroke="#fff" stroke-width="0.45" vector-effect="non-scaling-stroke">(</text><text transform="translate(175.70,40.98) scale(0.4278,0.3200)" font-family="'Liberation Serif', 'Times New Roman', serif" font-size="100" fill="#000" stroke="#fff" stroke-width="0.45" vector-effect="non-scaling-stroke">a</text><text transform="translate(195.37,41.64) scale(0.3423,0.3744)" font-family="'Liberation Serif', 'Times New Roman', serif" font-size="100" fill="#000" stroke="#fff" stroke-width="0.45" vector-effect="non-scaling-stroke">)</text></g>
<g><text transform="translate(158.66,563.88) scale(0.3412,0.3722)" font-family="'Liberation Serif', 'Times New Roman', serif" font-size="100" fill="#000" stroke="#fff" stroke-width="0.45" vector-effect="non-scaling-stroke">(</text><text transform="translate(175.00,563.17) scale(0.3565,0.3314)" font-family="'Liberation Serif', 'Times New Roman', serif" font-size="100" fill="#000" stroke="#fff" stroke-width="0.45" vector-effect="non-scaling-stroke">b</text><text transform="translate(194.07,563.88) scale(0.3423,0.3722)" font-family="'Liberation Serif', 'Times New Roman', serif" font-size="100" fill="#000" stroke="#fff" stroke-width="0.45" vector-effect="non-scaling-stroke">)</text></g>
<g><text transform="translate(572.65,42.21) scale(0.4301,0.4200)" font-family="'Liberation Serif', 'Times New Roman', serif" font-size="100" fill="#000" stroke="#fff" stroke-width="0.45" vector-effect="non-scaling-stroke">−</text><text transform="translate(598.73,37.65) scale(0.3362,0.3459)" font-family="'Liberation Serif', 'Times New Roman', serif" font-size="100" fill="#000" stroke="#fff" stroke-width="0.45" vector-effect="non-scaling-stroke">45</text><text transform="translate(633.03,29.45) scale(0.2333,0.2098)" font-family="'Liberation Serif', 'Times New Roman', serif" font-size="100" fill="#000" stroke="#fff" stroke-width="0.45" vector-effect="non-scaling-stroke">°</text><text transform="translate(655.80,36.60) scale(0.3680,0.3435)" font-family="'Liberation Serif', 'Times New Roman', serif" font-size="100" fill="#000" stroke="#fff" stroke-width="0.45" vector-effect="non-scaling-stroke">LP</text></g>
<g><text transform="translate(571.36,83.98) scale(0.4688,0.5283)" font-family="'Liberation Serif', 'Times New Roman', serif" font-size="100" fill="#000" stroke="#fff" stroke-width="0.45" vector-effect="non-scaling-stroke">+</text><text transform="translate(598.23,75.46) scale(0.3362,0.3429)" font-family="'Liberation Serif', 'Times New Roman', serif" font-size="100" fill="#000" stroke="#fff" stroke-width="0.45" vector-effect="non-scaling-stroke">45</text><text transform="translate(632.45,66.96) scale(0.2500,0.1934)" font-family="'Liberation Serif', 'Times New Roman', serif" font-size="100" fill="#000" stroke="#fff" stroke-width="0.45" vector-effect="non-scaling-stroke">°</text><text transform="translate(655.80,74.80) scale(0.3680,0.3435)" font-family="'Liberation Serif', 'Times New Roman', serif" font-size="100" fill="#000" stroke="#fff" stroke-width="0.45" vector-effect="non-scaling-stroke">LP</text></g>
<path d="M495.4,27.3H564.2" stroke="#000" stroke-width="1.7"/>
<rect x="525.05" y="22.55" width="9.5" height="9.5" fill="#000"/>
<path d="M495.4,65.2H564.2" stroke="#e41a23" stroke-width="1.7"/>
<circle cx="529.8" cy="65.2" r="5.4" fill="#e41a23"/>
<text transform="translate(622.68,719.24) scale(0.4062,0.3552)" font-family="'Liberation Serif', 'Times New Roman', serif" font-size="100" fill="#000" stroke="#fff" stroke-width="0.45" vector-effect="non-scaling-stroke">LCP</text>
<text transform="translate(622.68,765.85) scale(0.4060,0.3478)" font-family="'Liberation Serif', 'Times New Roman', serif" font-size="100" fill="#000" stroke="#fff" stroke-width="0.45" vector-effect="non-scaling-stroke">RCP</text>
<path d="M558.1,708.5H616.8" stroke="#17409a" stroke-width="1.8"/>
<circle cx="587.5" cy="708.5" r="5.9" fill="#17409a"/>
<path d="M558.1,750.7H616.8" stroke="#e41a23" stroke-width="1.8"/>
<circle cx="587.5" cy="750.7" r="5.9" fill="#e41a23"/>
</svg></body></html>
